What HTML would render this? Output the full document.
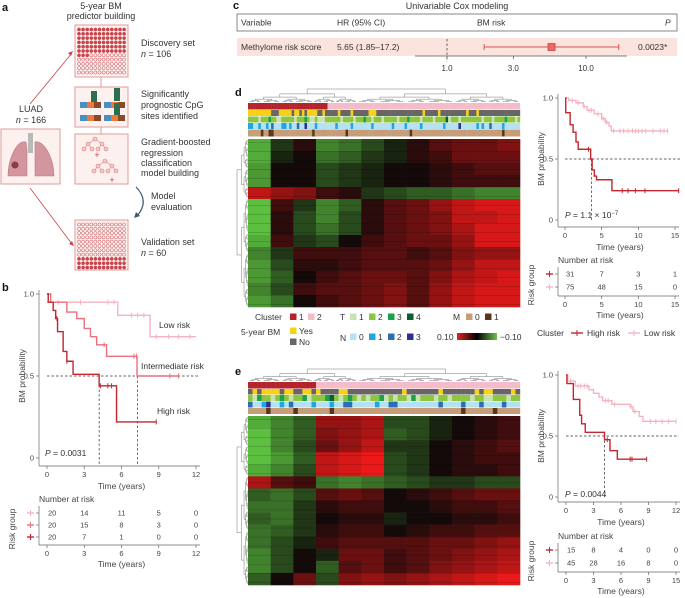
<!DOCTYPE html>
<html><head><meta charset="utf-8">
<style>
html,body{margin:0;padding:0;background:#fff}
svg{display:block;font-family:"Liberation Sans",sans-serif}
</style></head>
<body>
<svg id="fig" width="685" height="598" viewBox="0 0 685 598" xmlns="http://www.w3.org/2000/svg">
<g id="panelA" font-size="9" fill="#333">
  <text x="2" y="11" font-weight="bold" font-size="11" fill="#111">a</text>
  <text x="101" y="9" text-anchor="middle">5-year BM</text>
  <text x="101" y="19" text-anchor="middle">predictor building</text>
  <line x1="101" y1="77" x2="101" y2="87" stroke="#e39a9a"/>
  <line x1="101" y1="127" x2="101" y2="134" stroke="#e39a9a"/>
  <rect x="75" y="25" width="53" height="52" fill="#fdf1ef" stroke="#e39a9a"/>
  <g id="discDots"></g>
  <rect x="75" y="87" width="53" height="40" fill="#fdf1ef" stroke="#e39a9a"/>
  <g>
    <rect x="80" y="102" width="8" height="6" fill="#4a8fc0"/><rect x="87" y="102" width="8" height="6" fill="#ee7a3a"/><rect x="94" y="102" width="7" height="6" fill="#8a4a2a"/><rect x="91" y="91" width="6" height="11" fill="#2d6e4e"/>
    <rect x="80" y="115" width="8" height="6" fill="#4a8fc0"/><rect x="87" y="115" width="8" height="6" fill="#ee7a3a"/><rect x="94" y="115" width="7" height="6" fill="#8a4a2a"/>
    <rect x="104" y="102" width="8" height="6" fill="#4a8fc0"/><rect x="111" y="102" width="8" height="6" fill="#ee7a3a"/><rect x="118" y="102" width="7" height="6" fill="#8a4a2a"/><rect x="114" y="88" width="6" height="13" fill="#2d6e4e"/>
    <rect x="104" y="115" width="8" height="6" fill="#4a8fc0"/><rect x="111" y="115" width="8" height="6" fill="#ee7a3a"/><rect x="118" y="115" width="7" height="6" fill="#8a4a2a"/><rect x="114" y="103" width="6" height="12" fill="#2d6e4e"/>
  </g>
  <rect x="75" y="134" width="53" height="50" fill="#fdf1ef" stroke="#e39a9a"/>
  <g id="trees" fill="#f6c9c6" stroke="#d77c7c" stroke-width="0.6"></g>
  <rect x="75" y="220" width="53" height="50" fill="#fdf1ef" stroke="#e39a9a"/>
  <g id="valDots"></g>
  <rect x="1" y="129" width="59" height="55" fill="#fdf1ef" stroke="#e39a9a"/>
  <g>
    <rect x="28" y="133" width="5" height="20" fill="#b9b9b9"/>
    <path d="M26 142 C16 140 8 160 8 176 L27 176 L27 150 Z" fill="#d4969e" stroke="#b77a82" stroke-width="0.6"/>
    <path d="M35 142 C45 140 54 160 54 176 L35 176 L35 150 Z" fill="#d4969e" stroke="#b77a82" stroke-width="0.6"/>
    <circle cx="15" cy="165" r="3.5" fill="#8a3d49"/>
  </g>
  <text x="31" y="112" text-anchor="middle">LUAD</text>
  <text x="31" y="123" text-anchor="middle"><tspan font-style="italic">n</tspan> = 166</text>
  <line x1="30" y1="104" x2="72" y2="53" stroke="#c9434a" stroke-width="0.8"/>
  <path d="M73 51 L68 53 L71 56 Z" fill="#c9434a"/>
  <line x1="30" y1="188" x2="72" y2="244" stroke="#c9434a" stroke-width="0.8"/>
  <path d="M74 246 L69 244 L72 241 Z" fill="#c9434a"/>
  <path d="M136 187 Q150 201 137 216" fill="none" stroke="#3d5a78" stroke-width="1.2"/>
  <path d="M134 218 L136 212 L140 216 Z" fill="#3d5a78"/>
  <text x="141" y="46">Discovery set</text>
  <text x="141" y="57"><tspan font-style="italic">n</tspan> = 106</text>
  <text x="141" y="97">Significantly</text>
  <text x="141" y="108">prognostic CpG</text>
  <text x="141" y="119">sites identified</text>
  <text x="141" y="145">Gradient-boosted</text>
  <text x="141" y="156">regression</text>
  <text x="141" y="166">classification</text>
  <text x="141" y="176">model building</text>
  <text x="151" y="199">Model</text>
  <text x="151" y="210">evaluation</text>
  <text x="141" y="245">Validation set</text>
  <text x="141" y="256"><tspan font-style="italic">n</tspan> = 60</text>
</g>
<g id="panelB"></g>
<g id="panelC" font-size="8.5" fill="#333">
  <text x="233" y="9" font-weight="bold" font-size="11" fill="#111">c</text>
  <text x="457" y="9" text-anchor="middle" font-size="9">Univariable Cox modeling</text>
  <rect x="237" y="14" width="440" height="17" fill="#fff" stroke="#555" stroke-width="0.7"/>
  <text x="241" y="25.5">Variable</text>
  <text x="337" y="25.5">HR (95% CI)</text>
  <text x="477" y="25.5">BM risk</text>
  <text x="665" y="25.5" font-style="italic">P</text>
  <rect x="237" y="38" width="440" height="18" fill="#fbe3de"/>
  <text x="241" y="50">Methylome risk score</text>
  <text x="337" y="50">5.65 (1.85–17.2)</text>
  <text x="638" y="50">0.0023*</text>
  <g id="forest"></g>
</g>
<g id="panelD">
  <text x="235" y="96" font-weight="bold" font-size="11" fill="#111">d</text>
</g>
<g id="panelE">
  <text x="235" y="375" font-weight="bold" font-size="11" fill="#111">e</text>
</g>
<g id="legendD" font-size="8.5" fill="#333"></g>
</svg>
<script>
// ---------- DATA ----------
const bLowT=[0,5.7,8.3], bLowS=[0.95,0.87,0.74], bLowEnd=12;
const bLowCens=[0.9,2.7,4.9,5.4,6.8,7.3,7.8,8.8,9.8,10.6,11.5];
const bIntT=[0,0.3,1.6,2.4,3.0,3.5,4.0,4.8,7.25], bIntS=[1,0.95,0.89,0.85,0.79,0.74,0.69,0.62,0.5], bIntEnd=10.6;
const bIntCens=[4.6,7.0,7.2,9.9,10.6];
const bHighT=[0,0.1,0.5,0.7,0.85,1.3,1.6,2.1,4.2,5.6], bHighS=[1,0.95,0.9,0.85,0.77,0.65,0.59,0.51,0.44,0.22], bHighEnd=8.8;
const bHighCens=[0.8,1.6,4.3,4.9,5.2,8.8];
const bXTicks=[0,3,6,9,12];
const bRisk=[[20,14,11,5,0],[20,15,8,3,0],[20,7,1,0,0]];
const cHR=5.65, cLo=1.85, cHi=17.2;
const cTicks=[1,3,10], cTickLabels=["1.0","3.0","10.0"];
const dHighT=[0,0.1,0.7,1.1,1.5,1.8,3.5,3.7,4.0,4.3,6.4], dHighS=[1,0.88,0.78,0.72,0.64,0.58,0.5,0.41,0.36,0.33,0.24], dHighEnd=15.5;
const dHighCens=[3.2,7.8,8.6,9.6,10.9,15.5];
const dLowT=[0,0.5,1.5,2.5,3,4,5,5.5,6,6.3], dLowS=[1,0.98,0.96,0.93,0.9,0.87,0.83,0.8,0.77,0.73], dLowEnd=14;
const dLowCens=[1,1.8,2.6,3.3,3.6,4.5,5.2,5.7,6.6,7.5,8,8.6,9.2,9.6,10,10.5,11,12,13,13.5,14];
const dXTicks=[0,5,10,15];
const dRisk=[[31,7,3,1],[75,48,15,0]];
const eHighT=[0,0.1,0.8,1.5,1.7,2.1,4.2,4.8,5.6], eHighS=[1,0.93,0.8,0.67,0.6,0.53,0.47,0.38,0.31], eHighEnd=8.8;
const eHighCens=[4.5,7,7.2,8.8];
const eLowT=[0,0.2,1,2.5,3,3.6,4,5,7,7.3,8,8.4], eLowS=[1,0.95,0.91,0.88,0.85,0.82,0.79,0.76,0.74,0.70,0.66,0.62], eLowEnd=12;
const eLowCens=[0.5,1.3,1.6,2,2.3,4.3,4.6,5.3,7.1,7.5,9.2,9.8,10.5,11.2,12];
const eXTicks=[0,3,6,9,12], eRiskTicks=[0,3,6,9,15];
const eRisk=[[15,8,4,0,0],[45,28,16,8,0]];
const heatD=[
[-0.8,-0.2,0.1,-0.6,-0.5,-0.3,-0.1,0.1,0.3,0.4,0.4,0.5],
[-0.8,-0.1,0,-0.5,-0.4,-0.2,-0.1,0.1,0.2,0.4,0.4,0.4],
[-0.7,0,0,-0.3,-0.2,-0.1,0,0,0.1,0.2,0.3,0.3],
[-0.7,0,0,-0.3,-0.2,-0.1,0,0,0.1,0.2,0.2,0.2],
[0.8,0.6,0.5,0.2,0.1,-0.2,-0.3,-0.4,-0.4,-0.5,-0.6,-0.6],
[-0.9,0.2,-0.2,-0.6,-0.4,0.1,0.3,0.4,0.6,0.8,0.9,0.9],
[-0.9,0.1,-0.3,-0.6,-0.3,0.1,0.3,0.4,0.5,0.8,0.8,0.9],
[-0.9,0.1,-0.3,-0.5,-0.3,0.1,0.3,0.4,0.5,0.7,0.9,0.9],
[-0.8,0.2,-0.2,-0.3,0,0.2,0.3,0.4,0.4,0.6,0.9,0.9],
[-0.6,-0.2,0.2,0.2,0.2,0.3,0.3,0.2,0.3,0.5,0.6,0.6],
[-0.7,-0.3,0.1,0.1,0.2,0.3,0.3,0.3,0.4,0.6,0.8,0.8],
[-0.7,-0.4,0,0.2,0.3,0.4,0.4,0.3,0.5,0.7,0.8,0.9],
[-0.6,-0.3,0.2,0.3,0.3,0.4,0.5,0.3,0.6,0.8,0.9,0.9],
[-0.7,-0.5,0,0.2,0.3,0.4,0.5,0.3,0.6,0.8,0.9,0.9]];
const heatE=[
[-0.8,-0.6,-0.4,0.6,0.6,0.7,-0.3,-0.3,-0.1,0,0.1,0.2],
[-0.9,-0.6,-0.4,0.5,0.6,0.7,-0.4,-0.3,-0.1,0,0.1,0.2],
[-0.9,-0.6,-0.3,0.4,0.6,0.8,-0.2,-0.2,0,0.1,0.2,0.3],
[-0.9,-0.7,-0.4,0.8,0.9,1,-0.3,-0.2,0,0.1,0.2,0.2],
[-0.8,-0.6,-0.3,0.8,0.9,1,-0.3,-0.2,0,0.1,0.1,0.2],
[0.7,0.3,0.2,-0.5,-0.6,-0.5,-0.4,-0.3,-0.2,-0.2,-0.3,-0.3],
[-0.4,-0.5,-0.3,0.3,0.4,0.3,0,0.1,0.2,0.3,0.4,0.4],
[-0.5,-0.5,-0.2,0.1,0.2,0.2,0,0,0.1,0.2,0.2,0.3],
[-0.4,-0.5,-0.2,0,0.1,0.1,-0.1,0,0,0.1,0.1,0.2],
[-0.5,-0.4,-0.2,0.1,0.2,0.2,0,0.1,0.2,0.2,0.3,0.3],
[-0.5,-0.3,-0.1,0.2,0.3,0.3,0.3,0.3,0.4,0.4,0.5,0.6],
[-0.6,-0.3,0,-0.1,0.4,0.4,0.2,0.3,0.4,0.5,0.6,0.7],
[-0.6,-0.3,0,-0.4,0.3,0.4,0.2,0.3,0.5,0.6,0.7,0.8],
[-0.4,0,0.4,-0.3,0.5,0.6,0.5,0.6,0.7,0.8,0.9,1]];
const annClusterD="1".repeat(31)+"2".repeat(75);
const annBmD="YYYYYYYYYNNNYYYYYNYYNYNYYYYNNYNNNNNYNNNNYNNNNNNYYYNNNNNNNNNNNNNNNNNNYNNNNNYNNNNNNNNNNYNNNYNNNNNNNNNNNNNNNNNN";
const annTD="2222122232211222221222321121112222221222212223221222122222122232222122221222241222122222222122212222322212";
const annND="1100100102000110100200300010000000100000100000001000000010000100000100000000100000300000010100200001000000";
const annMD="0000010011000000000000000100000000000010000000000000000000000001000000000000000000000000000000000001000000";
const annClusterE="1".repeat(15)+"2".repeat(45);
const annBmE="NYNYYYYNYYNNYYNYNNNNYYNNNNNNNNNNNNYNNNNNNNYNNNNNNNYNYYNNNNYN";
const annTE="213221232122312223421232121223121221312221221222212211222122";
const annNE="200130010200001000100220000010022000000000200002000200002000";
const annME="000010000010000000100000000000000000000000000001000000100000";

// ---------- HELPERS ----------
const NS="http://www.w3.org/2000/svg";
function mk(parent,tag,attrs,text){const e=document.createElementNS(NS,tag);for(const k in attrs)e.setAttribute(k,attrs[k]);if(text!==undefined)e.textContent=text;parent.appendChild(e);return e;}
const lin=(d0,d1,r0,r1)=>v=>r0+(v-d0)/(d1-d0)*(r1-r0);

(function(){
  const disc=document.getElementById('discDots');
  for(let r=0;r<11;r++)for(let c=0;c<12;c++){
    const idx=r*12+c; const filled=idx<106*0.7;
    const d=mk(disc,'circle',{cx:79+c*4.1,cy:29.5+r*4.3,r:1.6,fill:filled?'#c9434a':'#fdf1ef',stroke:'#c9434a','stroke-width':0.5});
    
    
  }
  const val=document.getElementById('valDots');
  for(let r=0;r<11;r++)for(let c=0;c<12;c++){
    const filled=r>=8;
    const d=mk(val,'circle',{cx:79+c*4.1,cy:224.5+r*4.3,r:1.6,fill:filled?'#c9434a':'#fdf1ef',stroke:'#c9434a','stroke-width':0.5});
    
    
  }
  const tr=document.getElementById('trees');
  function tree(cx,cy){
    const nodes=[[cx,cy],[cx-7,cy+5],[cx+7,cy+5],[cx-11,cy+10],[cx-3,cy+10],[cx+3,cy+10],[cx+11,cy+10]];
    [[0,1],[0,2],[1,3],[1,4],[2,5],[2,6]].forEach(([a,b])=>mk(tr,'line',{x1:nodes[a][0],y1:nodes[a][1],x2:nodes[b][0],y2:nodes[b][1]}));
    nodes.forEach(n=>mk(tr,'circle',{cx:n[0],cy:n[1],r:2}));
  }
  tree(95,139); tree(105,161);
  mk(tr,'text',{x:97,y:158,fill:'#c9434a',stroke:'none','font-size':9,'text-anchor':'middle'},'+');
  mk(tr,'text',{x:112,y:183,fill:'#c9434a',stroke:'none','font-size':9,'text-anchor':'middle'},'+');
})();

function drawKM(g,T,S,end,cens,xs,ys,color,name){
  let d=`M${xs(T[0])},${ys(S[0])}`;
  for(let i=1;i<T.length;i++){d+=` H${xs(T[i])} V${ys(S[i])}`;}
  d+=` H${xs(end)}`;
  const p=mk(g,'path',{d:d,fill:'none',stroke:color,'stroke-width':1.4});
  
  
  cens.forEach(t=>{
    let s=S[0];for(let i=0;i<T.length;i++)if(T[i]<=t)s=S[i];
    const c=mk(g,'line',{x1:xs(t),x2:xs(t),y1:ys(s)-2.5,y2:ys(s)+2.5,stroke:color,'stroke-width':1});
    
    
  });
}
function kmAxes(g,o){
  const xs=lin(o.xMin,o.xMax,o.x0,o.x1), ys=lin(0,1,o.y0,o.y1);
  const ax=mk(g,'g',{'font-size':7.5,fill:'#444'});
  
  
  mk(ax,'line',{x1:o.yAxisX,x2:o.yAxisX,y1:o.y1-4,y2:o.axisY,stroke:'#666','stroke-width':0.7});
  mk(ax,'line',{x1:o.yAxisX,x2:o.xEnd,y1:o.axisY,y2:o.axisY,stroke:'#666','stroke-width':0.7});
  [[0,'0'],[0.5,'0.5'],[1,'1.0']].forEach(([v,l])=>{
    mk(ax,'line',{x1:o.yAxisX-3,x2:o.yAxisX,y1:ys(v),y2:ys(v),stroke:'#666','stroke-width':0.7});
    mk(ax,'text',{x:o.yAxisX-5,y:ys(v)+2.5,'text-anchor':'end'},l);
  });
  o.ticks.forEach(t=>{
    mk(ax,'line',{x1:xs(t),x2:xs(t),y1:o.axisY,y2:o.axisY+3,stroke:'#666','stroke-width':0.7});
    mk(ax,'text',{x:xs(t),y:o.axisY+11,'text-anchor':'middle'},t);
  });
  mk(ax,'text',{x:(o.x0+o.x1)/2,y:o.axisY+23,'text-anchor':'middle','font-size':8.5},'Time (years)');
  mk(ax,'text',{transform:`translate(${o.yAxisX-14},${ys(0.5)}) rotate(-90)`,'text-anchor':'middle','font-size':8.5},'BM probability');
  return {xs,ys};
}
function riskTable(g,o){
  const t=mk(g,'g',{'font-size':7.5,fill:'#444'});
  
  
  const n=o.ticks.length;
  const xi=j=>o.x0+j*(o.x1-o.x0)/(n-1);
  mk(t,'text',{x:o.yAxisX,y:o.titleY,'font-size':8.5},'Number at risk');
  o.rows.forEach((row,i)=>{
    const y=o.rowY[i];
    mk(t,'line',{x1:o.yAxisX-3,x2:o.yAxisX,y1:y,y2:y,stroke:'#666','stroke-width':0.7});
    mk(t,'line',{x1:o.yAxisX-12,x2:o.yAxisX-5,y1:y,y2:y,stroke:o.colors[i],'stroke-width':1.4});
    mk(t,'line',{x1:o.yAxisX-8.5,x2:o.yAxisX-8.5,y1:y-3,y2:y+3,stroke:o.colors[i],'stroke-width':1});
    row.forEach((v,j)=>{const x=xi(j);mk(t,'text',{x:j===0?x+1:x,y:y+2.5,'text-anchor':j===0?'start':'middle'},v);});
  });
  mk(t,'line',{x1:o.yAxisX,x2:o.yAxisX,y1:o.rowY[0]-7,y2:o.axisY,stroke:'#666','stroke-width':0.7});
  mk(t,'line',{x1:o.yAxisX,x2:o.xEnd,y1:o.axisY,y2:o.axisY,stroke:'#666','stroke-width':0.7});
  o.ticks.forEach((v,j)=>{const x=xi(j);
    mk(t,'line',{x1:x,x2:x,y1:o.axisY,y2:o.axisY+3,stroke:'#666','stroke-width':0.7});
    mk(t,'text',{x:x,y:o.axisY+11,'text-anchor':'middle'},v);});
  if(o.timeLabel) mk(t,'text',{x:(o.x0+o.x1)/2,y:o.axisY+22,'text-anchor':'middle','font-size':8.5},'Time (years)');
  const midY=(o.rowY[0]+o.axisY)/2;
  mk(t,'text',{transform:`translate(${o.yAxisX-24},${midY}) rotate(-90)`,'text-anchor':'middle','font-size':8.5},'Risk group');
}
function dashed(g,x1,y1,x2,y2){const l=mk(g,'line',{x1,y1,x2,y2,stroke:'#333','stroke-width':0.7,'stroke-dasharray':'2.5,2'});}
const HIGH='#c1272d', MID='#eb6f7e', LOW='#f4b3c0';

(function(){
  const g=document.getElementById('panelB');
  mk(g,'text',{x:2,y:291,'font-weight':'bold','font-size':11,fill:'#111'},'b');
  const {xs,ys}=kmAxes(g,{x0:47,x1:196,xEnd:200,y0:458,y1:294,xMin:0,xMax:12,ticks:bXTicks,axisY:466,yAxisX:39});
  dashed(g,xs(0),ys(0.5),xs(12.3),ys(0.5));
  dashed(g,xs(4.2),ys(0.5),xs(4.2),466);
  dashed(g,xs(7.3),ys(0.5),xs(7.3),466);
  drawKM(g,bLowT,bLowS,bLowEnd,bLowCens,xs,ys,LOW,'low-risk');
  drawKM(g,bIntT,bIntS,bIntEnd,bIntCens,xs,ys,MID,'intermediate-risk');
  drawKM(g,bHighT,bHighS,bHighEnd,bHighCens,xs,ys,HIGH,'high-risk');
  const lab=mk(g,'g',{'font-size':8.5,fill:'#333'});
  
  
  mk(lab,'text',{x:159,y:328},'Low risk');
  mk(lab,'text',{x:141,y:369},'Intermediate risk');
  mk(lab,'text',{x:157,y:414},'High risk');
  mk(lab,'text',{x:45,y:456,'font-size':8.5},'').innerHTML='<tspan font-style="italic">P</tspan> = 0.0031';
  riskTable(g,{x0:47,x1:196,xEnd:200,yAxisX:39,ticks:bXTicks,rows:bRisk,rowY:[513,525,537],colors:[LOW,MID,HIGH],titleY:502,axisY:545,timeLabel:true});
})();

(function(){
  const g=document.getElementById('forest');
  const xs=v=>447+Math.log10(v)*139;
  mk(g,'line',{x1:415,x2:627,y1:56,y2:56,stroke:'#555','stroke-width':0.7});
  dashed(g,xs(1),39,xs(1),62);
  cTicks.forEach((t,i)=>{mk(g,'line',{x1:xs(t),x2:xs(t),y1:56,y2:59,stroke:'#555','stroke-width':0.7});
    mk(g,'text',{x:xs(t),y:71,'text-anchor':'middle','font-size':8},cTickLabels[i]);});
  const ci=mk(g,'line',{x1:xs(cLo),x2:xs(cHi),y1:47,y2:47,stroke:'#e0524f','stroke-width':1});
  
  
  [cLo,cHi].forEach(v=>mk(g,'line',{x1:xs(v),x2:xs(v),y1:44,y2:50,stroke:'#e0524f','stroke-width':1}));
  const pt=mk(g,'rect',{x:xs(cHR)-3.5,y:43.5,width:7,height:7,fill:'#ee6a5f',stroke:'#c9434a','stroke-width':0.8});
  
  
})();

function heatColor(v){
  if(v>=0){return `rgb(${Math.round(20+215*v)},${Math.round(10+15*v)},${Math.round(10+15*v)})`;}
  const a=-v;return `rgb(${Math.round(15+85*a)},${Math.round(15+195*a)},${Math.round(10+60*a)})`;
}
const annColors={
  cl:{'1':'#b5232b','2':'#f4bcc8'}, bm:{'Y':'#f7d117','N':'#666666'},
  t:{'1':'#c6e3b0','2':'#8cc63f','3':'#19a24a','4':'#0b5e2e'},
  n:{'0':'#b6e1f3','1':'#1ea7e8','2':'#2a6fb5','3':'#2e3192'},
  m:{'0':'#c69d78','1':'#5a3817'}
};
function dendroTop(g,x0,x1,yTop,yBot,depth){
  function rec(a,b,h,d){
    const mid=(a+b)/2;
    if(d===0){return mid;}
    const split=a+(b-a)*(0.4+0.2*((d*7)%3)/2);
    const hc=h+(yBot-h)*0.35;
    const l=rec(a,split,hc,d-1), r=rec(split,b,hc,d-1);
    mk(g,'path',{d:`M${l},${hc} V${h} H${r} V${hc}`,fill:'none',stroke:'#777','stroke-width':0.5});
    return (l+r)/2;
  }
  rec(x0,x1,yTop,depth);
}
function dendroLeft(g,y0,y1,xL,xR,depth){
  function rec(a,b,xx,d){
    const mid=(a+b)/2; if(d===0)return mid;
    const split=a+(b-a)*(0.35+0.3*((d*5)%3)/2);
    const xc=xx+(xR-xx)*0.4;
    const t=rec(a,split,xc,d-1), u=rec(split,b,xc,d-1);
    mk(g,'path',{d:`M${xc},${t} H${xx} V${u} H${xc}`,fill:'none',stroke:'#777','stroke-width':0.5});
    return (t+u)/2;
  }
  rec(y0,y1,xL,depth);
}
function drawHeat(gid,heat,anns,o){
  const g=document.getElementById(gid);
  const hg=mk(g,'g',{});
  
  
  const nR=heat.length,nC=heat[0].length;
  const cw=(o.x1-o.x0)/nC, rh=(o.y1-o.y0)/nR;
  heat.forEach((row,r)=>row.forEach((v,c)=>{
    const cell=mk(hg,'rect',{x:o.x0+c*cw,y:o.y0+r*rh,width:cw+0.3,height:rh+0.3,fill:heatColor(v)});
    
    
  }));
  for(let r=0;r<nR*4;r++){
    if(r%3===1) mk(hg,'rect',{x:o.x0,y:o.y0+r*rh/4,width:o.x1-o.x0,height:0.8,fill:'#000',opacity:0.18});
  }
  const ag=mk(g,'g',{});
  
  
  const keys=['cl','bm','t','n','m'];
  anns.forEach((s,k)=>{
    const n=o.n, w=(o.x1-o.x0)/n;
    const str=s.padEnd(n,s[s.length-1]).slice(0,n);
    for(let i=0;i<n;i++){
      const rc=mk(ag,'rect',{x:o.x0+i*w,y:o.annY[k],width:w+0.2,height:o.annY[k+1]-o.annY[k]-0.5,fill:annColors[keys[k]][str[i]]});
      
      
    }
  });
  const dg=mk(g,'g',{});
  
  
  dendroTop(dg,o.x0,o.x1,o.dTop,o.annY[0],6);
  dendroLeft(dg,o.y0,o.y1,o.x0-11,o.x0,6);
}
drawHeat('panelD',heatD,[annClusterD,annBmD,annTD,annND,annMD],{x0:248,x1:520,y0:139,y1:307,n:106,annY:[103,110,116.5,123,129.5,137],dTop:89});
drawHeat('panelE',heatE,[annClusterE,annBmE,annTE,annNE,annME],{x0:248,x1:520,y0:416,y1:585,n:60,annY:[382,389,395,401.5,408,414.5],dTop:369});

(function(){
  const g=document.getElementById('legendD');
  function sw(x,y,c){mk(g,'rect',{x:x,y:y-6.5,width:6.5,height:6.5,fill:c});}
  mk(g,'text',{x:255,y:320},'Cluster');
  sw(290,320,annColors.cl['1']);mk(g,'text',{x:299,y:320},'1');
  sw(308,320,annColors.cl['2']);mk(g,'text',{x:317,y:320},'2');
  mk(g,'text',{x:241,y:335},'5-year BM');
  sw(290,334,annColors.bm.Y);mk(g,'text',{x:299,y:334},'Yes');
  sw(290,345,annColors.bm.N);mk(g,'text',{x:299,y:345},'No');
  mk(g,'text',{x:340,y:320},'T');
  ['1','2','3','4'].forEach((k,i)=>{sw(350+i*19,320,annColors.t[k]);mk(g,'text',{x:359+i*19,y:320},k);});
  mk(g,'text',{x:340,y:341},'N');
  ['0','1','2','3'].forEach((k,i)=>{sw(350+i*19,340,annColors.n[k]);mk(g,'text',{x:359+i*19,y:340},k);});
  mk(g,'text',{x:453,y:320},'M');
  sw(466,320,annColors.m['0']);mk(g,'text',{x:475,y:320},'0');
  sw(485,320,annColors.m['1']);mk(g,'text',{x:494,y:320},'1');
  const defs=mk(g,'defs',{});
  const lg=mk(defs,'linearGradient',{id:'cbar',x1:0,x2:1,y1:0,y2:0});
  mk(lg,'stop',{offset:0,'stop-color':'#e0261f'});mk(lg,'stop',{offset:0.5,'stop-color':'#000'});mk(lg,'stop',{offset:1,'stop-color':'#6fc24a'});
  mk(g,'text',{x:437,y:340},'0.10');
  const cb=mk(g,'rect',{x:457,y:333,width:40,height:7,fill:'url(#cbar)'});
  
  
  mk(g,'text',{x:500,y:340},'−0.10');
})();

(function(){
  const g=mk(document.getElementById('panelD'),'g',{});
  
  
  const {xs,ys}=kmAxes(g,{x0:565,x1:675,xEnd:679,y0:220,y1:98,xMin:0,xMax:15,ticks:dXTicks,axisY:227,yAxisX:558});
  dashed(g,xs(0),ys(0.5),xs(15.7),ys(0.5));
  dashed(g,xs(3.6),ys(0.5),xs(3.6),220);
  drawKM(g,dLowT,dLowS,dLowEnd,dLowCens,xs,ys,LOW,'low-risk');
  drawKM(g,dHighT,dHighS,dHighEnd,dHighCens,xs,ys,HIGH,'high-risk');
  mk(g,'text',{x:565,y:218,'font-size':8.5,fill:'#333'}).innerHTML='<tspan font-style="italic">P</tspan> = 1.1 × 10<tspan dy="-3" font-size="6">−7</tspan>';
  riskTable(g,{x0:565,x1:675,xEnd:679,yAxisX:558,ticks:dXTicks,rows:dRisk,rowY:[274,287],colors:[HIGH,LOW],titleY:263,axisY:296,timeLabel:true});
  const lg=mk(g,'g',{'font-size':8.5,fill:'#333'});
  
  
  mk(lg,'text',{x:537,y:336},'Cluster');
  mk(lg,'line',{x1:571,x2:583,y1:333,y2:333,stroke:HIGH,'stroke-width':1.4});mk(lg,'line',{x1:577,x2:577,y1:330,y2:336,stroke:HIGH});
  mk(lg,'text',{x:587,y:336},'High risk');
  mk(lg,'line',{x1:628,x2:640,y1:333,y2:333,stroke:LOW,'stroke-width':1.4});mk(lg,'line',{x1:634,x2:634,y1:330,y2:336,stroke:LOW});
  mk(lg,'text',{x:644,y:336},'Low risk');
})();

(function(){
  const g=mk(document.getElementById('panelE'),'g',{});
  
  
  const {xs,ys}=kmAxes(g,{x0:566,x1:676,xEnd:680,y0:497,y1:375,xMin:0,xMax:12,ticks:eXTicks,axisY:502,yAxisX:558});
  dashed(g,xs(0),ys(0.5),xs(12.3),ys(0.5));
  dashed(g,xs(4.2),ys(0.5),xs(4.2),497);
  drawKM(g,eLowT,eLowS,eLowEnd,eLowCens,xs,ys,LOW,'low-risk');
  drawKM(g,eHighT,eHighS,eHighEnd,eHighCens,xs,ys,HIGH,'high-risk');
  mk(g,'text',{x:565,y:497,'font-size':8.5,fill:'#333'}).innerHTML='<tspan font-style="italic">P</tspan> = 0.0044';
  riskTable(g,{x0:566,x1:676,xEnd:680,yAxisX:558,ticks:eRiskTicks,rows:eRisk,rowY:[550,563],colors:[HIGH,LOW],titleY:539,axisY:572,timeLabel:true});
})();
</script>
</body></html>
